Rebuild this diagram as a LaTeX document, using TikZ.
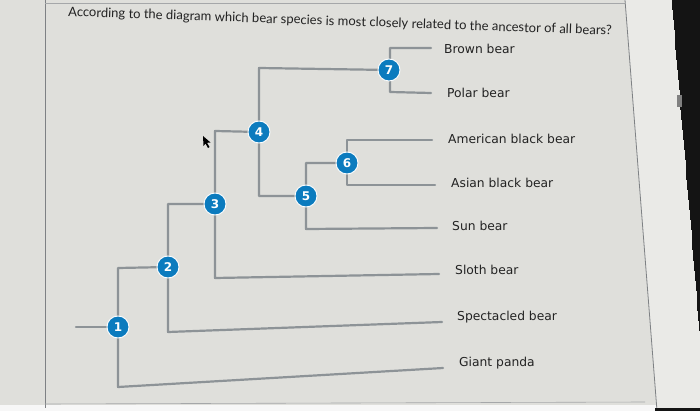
\documentclass[tikz,border=0pt]{standalone}
\usepackage{fontspec}
\setmainfont{DejaVu Sans}
\newfontfamily\titlefont{Lato}
\newfontfamily\labfont{DejaVu Sans}
\usetikzlibrary{backgrounds}
\definecolor{bgscreen}{HTML}{DFDFDB}
\definecolor{bgedge}{HTML}{EAEAE7}
\definecolor{framegray}{HTML}{7E8184}
\definecolor{branchgray}{HTML}{8D9397}
\definecolor{nodeblue}{HTML}{0B7BBE}
\definecolor{txt}{HTML}{222222}
\definecolor{bezelcol}{HTML}{141414}
\tikzset{
  num/.style={circle, fill=nodeblue, draw=white, line width=0.9pt, minimum size=22pt,
    inner sep=0pt, text=white, font=\labfont\bfseries\fontsize{12}{12}\selectfont},
  leaf/.style={anchor=west, inner sep=0pt, text=txt, font=\labfont\fontsize{12.3}{14}\selectfont},
  branch/.style={draw=branchgray, line width=2.2pt, line join=round, line cap=round},
}
\begin{document}
\begin{tikzpicture}[x=1pt,y=-1pt]
\useasboundingbox (0,0) rectangle (700,411);

% title
\node[text=txt, font=\titlefont\fontsize{13}{15}\selectfont, rotate=-2, inner sep=0pt]
  (title) at (340,22) {According to the diagram which bear species is most closely related to the ancestor of all bears?};

% internal nodes
\node[num] (n1) at (118,327) {1};
\node[num] (n2) at (168,267) {2};
\node[num] (n3) at (215,204) {3};
\node[num] (n4) at (259,132) {4};
\node[num] (n5) at (306,196) {5};
\node[num] (n6) at (347,163) {6};
\node[num] (n7) at (389,70) {7};

% leaf labels
\node[leaf] (lBrown) at (444,49) {Brown bear};
\node[leaf] (lPolar) at (447,93) {Polar bear};
\node[leaf] (lAmer) at (448,139) {American black bear};
\node[leaf] (lAsian) at (451,183) {Asian black bear};
\node[leaf] (lSun) at (452,226) {Sun bear};
\node[leaf] (lSloth) at (455,270) {Sloth bear};
\node[leaf] (lSpect) at (457,317) {Spectacled bear};
\node[leaf] (lPanda) at (459,363) {Giant panda};

% corners and free ends
\coordinate (r0) at (76,327);
\coordinate (c1t) at (118,268); \coordinate (c1b) at (118,387);
\coordinate (c2t) at (168,204); \coordinate (c2b) at (168,332);
\coordinate (c3t) at (215,131); \coordinate (c3b) at (215,278);
\coordinate (c4t) at (259,68);  \coordinate (c4b) at (259,196);
\coordinate (c5t) at (306,163); \coordinate (c5b) at (306,229);
\coordinate (c6t) at (347,140); \coordinate (c6b) at (347,185);
\coordinate (c7t) at (390,48);  \coordinate (c7b) at (390,92);
\coordinate (eBrown) at (431,48);
\coordinate (ePolar) at (431,93);
\coordinate (eAmer) at (432,140);
\coordinate (eAsian) at (435,185);
\coordinate (eSun) at (437,228);
\coordinate (eSloth) at (439,274);
\coordinate (eSpect) at (442,322);
\coordinate (ePanda) at (443,368);

% mouse pointer
\fill[black] (203,136) -- (203.5,146) -- (205.5,143.5) -- (208,148) -- (209.5,147) -- (207,142.8) -- (210.5,142.5) -- cycle;

% monitor bezel (staircase of strips following the slanted edge)
\foreach \k in {0,...,32} {
  \fill[bezelcol] ({672+28*\k/33},{10*\k}) rectangle (700,{10*\k+10.5});
}
\fill[bezelcol] (655,408) rectangle (700,411);
\fill[gray] (677,95) rectangle (682,107);

\begin{scope}[on background layer]
  % screen background
  \fill[bgscreen] (0,0) rectangle (700,411);
  \fill[bgedge] (625,0) -- (700,0) -- (700,411) -- (657,411) -- cycle;
  \fill[white!94!gray] (0,405) rectangle (657,411);
  \draw[framegray, line width=0.8pt] (45,0) -- (45,408);
  \draw[framegray!70, line width=0.6pt] (45,3) -- (625,3);
  \draw[framegray!70, line width=0.6pt] (45,404) -- (645,402);
  \draw[framegray, line width=0.8pt] (625,0) -- (657,411);
  % branches
  \draw[branch] (r0) -- (n1.center);
  \draw[branch] (n2.center) -- (c1t) -- (c1b) -- (ePanda);
  \draw[branch] (n3.center) -- (c2t) -- (c2b) -- (eSpect);
  \draw[branch] (n4.center) -- (c3t) -- (c3b) -- (eSloth);
  \draw[branch] (n7.center) -- (c4t) -- (c4b) -- (n5.center);
  \draw[branch] (n6.center) -- (c5t) -- (c5b) -- (eSun);
  \draw[branch] (eAmer) -- (c6t) -- (c6b) -- (eAsian);
  \draw[branch] (eBrown) -- (c7t) -- (c7b) -- (ePolar);
\end{scope}
\end{tikzpicture}
\end{document}
